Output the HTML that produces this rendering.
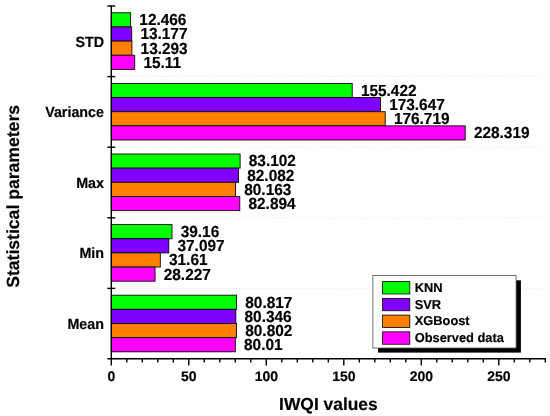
<!DOCTYPE html>
<html><head><meta charset="utf-8"><title>chart</title><style>html,body{margin:0;padding:0;background:#fff}svg{display:block}</style></head><body>
<svg width="550" height="416" viewBox="0 0 550 416" font-family="'Liberation Sans', Arial, sans-serif" font-weight="bold" fill="#000" text-rendering="geometricPrecision">
<rect width="550" height="416" fill="#fff"/>
<line x1="111.3" y1="76.60" x2="543" y2="76.60" stroke="#e2e2e2" stroke-width="1" stroke-dasharray="1 1.9"/>
<line x1="111.3" y1="147.20" x2="543" y2="147.20" stroke="#e2e2e2" stroke-width="1" stroke-dasharray="1 1.9"/>
<line x1="111.3" y1="217.80" x2="543" y2="217.80" stroke="#e2e2e2" stroke-width="1" stroke-dasharray="1 1.9"/>
<line x1="111.3" y1="288.40" x2="543" y2="288.40" stroke="#e2e2e2" stroke-width="1" stroke-dasharray="1 1.9"/>
<rect x="111.3" y="12.80" width="19.32" height="14.15" fill="#00ff00" stroke="#0a0a0a" stroke-width="0.9"/>
<text transform="translate(139.32,25.27) scale(1,1.04)" font-size="15.4" stroke="#000" stroke-width="0.18">12.466</text>
<rect x="111.3" y="26.95" width="20.42" height="14.15" fill="#8000ff" stroke="#0a0a0a" stroke-width="0.9"/>
<text transform="translate(140.42,39.43) scale(1,1.04)" font-size="15.4" stroke="#000" stroke-width="0.18">13.177</text>
<rect x="111.3" y="41.10" width="20.60" height="14.15" fill="#ff8000" stroke="#0a0a0a" stroke-width="0.9"/>
<text transform="translate(140.60,53.58) scale(1,1.04)" font-size="15.4" stroke="#000" stroke-width="0.18">13.293</text>
<rect x="111.3" y="55.25" width="23.42" height="14.15" fill="#ff00ff" stroke="#0a0a0a" stroke-width="0.9"/>
<text transform="translate(143.42,67.73) scale(1,1.04)" font-size="15.4" stroke="#000" stroke-width="0.18">15.11</text>
<text transform="translate(104.00,46.60) scale(1,1.04)" font-size="14.3" text-anchor="end" stroke="#000" stroke-width="0.18">STD</text>
<rect x="111.3" y="83.40" width="240.90" height="14.15" fill="#00ff00" stroke="#0a0a0a" stroke-width="0.9"/>
<text transform="translate(360.90,95.88) scale(1,1.04)" font-size="15.4" stroke="#000" stroke-width="0.18">155.422</text>
<rect x="111.3" y="97.55" width="269.15" height="14.15" fill="#8000ff" stroke="#0a0a0a" stroke-width="0.9"/>
<text transform="translate(389.15,110.03) scale(1,1.04)" font-size="15.4" stroke="#000" stroke-width="0.18">173.647</text>
<rect x="111.3" y="111.70" width="273.91" height="14.15" fill="#ff8000" stroke="#0a0a0a" stroke-width="0.9"/>
<text transform="translate(393.91,124.17) scale(1,1.04)" font-size="15.4" stroke="#000" stroke-width="0.18">176.719</text>
<rect x="111.3" y="125.85" width="353.89" height="14.15" fill="#ff00ff" stroke="#0a0a0a" stroke-width="0.9"/>
<text transform="translate(473.89,138.32) scale(1,1.04)" font-size="15.4" stroke="#000" stroke-width="0.18">228.319</text>
<text transform="translate(104.00,117.20) scale(1,1.04)" font-size="14.3" text-anchor="end" stroke="#000" stroke-width="0.18">Variance</text>
<rect x="111.3" y="154.00" width="128.81" height="14.15" fill="#00ff00" stroke="#0a0a0a" stroke-width="0.9"/>
<text transform="translate(248.81,166.47) scale(1,1.04)" font-size="15.4" stroke="#000" stroke-width="0.18">83.102</text>
<rect x="111.3" y="168.15" width="127.23" height="14.15" fill="#8000ff" stroke="#0a0a0a" stroke-width="0.9"/>
<text transform="translate(247.23,180.62) scale(1,1.04)" font-size="15.4" stroke="#000" stroke-width="0.18">82.082</text>
<rect x="111.3" y="182.30" width="124.25" height="14.15" fill="#ff8000" stroke="#0a0a0a" stroke-width="0.9"/>
<text transform="translate(244.25,194.78) scale(1,1.04)" font-size="15.4" stroke="#000" stroke-width="0.18">80.163</text>
<rect x="111.3" y="196.45" width="128.49" height="14.15" fill="#ff00ff" stroke="#0a0a0a" stroke-width="0.9"/>
<text transform="translate(248.49,208.92) scale(1,1.04)" font-size="15.4" stroke="#000" stroke-width="0.18">82.894</text>
<text transform="translate(104.00,187.80) scale(1,1.04)" font-size="14.3" text-anchor="end" stroke="#000" stroke-width="0.18">Max</text>
<rect x="111.3" y="224.60" width="60.70" height="14.15" fill="#00ff00" stroke="#0a0a0a" stroke-width="0.9"/>
<text transform="translate(180.70,237.07) scale(1,1.04)" font-size="15.4" stroke="#000" stroke-width="0.18">39.16</text>
<rect x="111.3" y="238.75" width="57.50" height="14.15" fill="#8000ff" stroke="#0a0a0a" stroke-width="0.9"/>
<text transform="translate(177.50,251.22) scale(1,1.04)" font-size="15.4" stroke="#000" stroke-width="0.18">37.097</text>
<rect x="111.3" y="252.90" width="49.00" height="14.15" fill="#ff8000" stroke="#0a0a0a" stroke-width="0.9"/>
<text transform="translate(169.00,265.38) scale(1,1.04)" font-size="15.4" stroke="#000" stroke-width="0.18">31.61</text>
<rect x="111.3" y="267.05" width="43.75" height="14.15" fill="#ff00ff" stroke="#0a0a0a" stroke-width="0.9"/>
<text transform="translate(163.75,279.52) scale(1,1.04)" font-size="15.4" stroke="#000" stroke-width="0.18">28.227</text>
<text transform="translate(104.00,258.40) scale(1,1.04)" font-size="14.3" text-anchor="end" stroke="#000" stroke-width="0.18">Min</text>
<rect x="111.3" y="295.20" width="125.27" height="14.15" fill="#00ff00" stroke="#0a0a0a" stroke-width="0.9"/>
<text transform="translate(245.27,307.67) scale(1,1.04)" font-size="15.4" stroke="#000" stroke-width="0.18">80.817</text>
<rect x="111.3" y="309.35" width="124.54" height="14.15" fill="#8000ff" stroke="#0a0a0a" stroke-width="0.9"/>
<text transform="translate(244.54,321.82) scale(1,1.04)" font-size="15.4" stroke="#000" stroke-width="0.18">80.346</text>
<rect x="111.3" y="323.50" width="125.24" height="14.15" fill="#ff8000" stroke="#0a0a0a" stroke-width="0.9"/>
<text transform="translate(245.24,335.97) scale(1,1.04)" font-size="15.4" stroke="#000" stroke-width="0.18">80.802</text>
<rect x="111.3" y="337.65" width="124.02" height="14.15" fill="#ff00ff" stroke="#0a0a0a" stroke-width="0.9"/>
<text transform="translate(244.02,350.12) scale(1,1.04)" font-size="15.4" stroke="#000" stroke-width="0.18">80.01</text>
<text transform="translate(104.00,329.00) scale(1,1.04)" font-size="14.3" text-anchor="end" stroke="#000" stroke-width="0.18">Mean</text>
<line x1="111.3" y1="5.3" x2="111.3" y2="359.5" stroke="#000" stroke-width="1.4"/>
<line x1="107.3" y1="358.8" x2="545.9" y2="358.8" stroke="#000" stroke-width="1.4"/>
<line x1="107.3" y1="6.00" x2="115.3" y2="6.00" stroke="#000" stroke-width="1.4"/>
<line x1="107.3" y1="76.60" x2="115.3" y2="76.60" stroke="#000" stroke-width="1.4"/>
<line x1="107.3" y1="147.20" x2="115.3" y2="147.20" stroke="#000" stroke-width="1.4"/>
<line x1="107.3" y1="217.80" x2="115.3" y2="217.80" stroke="#000" stroke-width="1.4"/>
<line x1="107.3" y1="288.40" x2="115.3" y2="288.40" stroke="#000" stroke-width="1.4"/>
<line x1="111.30" y1="358.8" x2="111.30" y2="365.6" stroke="#000" stroke-width="1.4"/>
<text transform="translate(111.30,380.60) scale(1,0.99)" font-size="14" text-anchor="middle" stroke="#000" stroke-width="0.18">0</text>
<line x1="126.80" y1="358.8" x2="126.80" y2="362.40000000000003" stroke="#000" stroke-width="1.4"/>
<line x1="142.30" y1="358.8" x2="142.30" y2="362.40000000000003" stroke="#000" stroke-width="1.4"/>
<line x1="157.80" y1="358.8" x2="157.80" y2="362.40000000000003" stroke="#000" stroke-width="1.4"/>
<line x1="173.30" y1="358.8" x2="173.30" y2="362.40000000000003" stroke="#000" stroke-width="1.4"/>
<line x1="188.80" y1="358.8" x2="188.80" y2="365.6" stroke="#000" stroke-width="1.4"/>
<text transform="translate(188.80,380.60) scale(1,0.99)" font-size="14" text-anchor="middle" stroke="#000" stroke-width="0.18">50</text>
<line x1="204.30" y1="358.8" x2="204.30" y2="362.40000000000003" stroke="#000" stroke-width="1.4"/>
<line x1="219.80" y1="358.8" x2="219.80" y2="362.40000000000003" stroke="#000" stroke-width="1.4"/>
<line x1="235.30" y1="358.8" x2="235.30" y2="362.40000000000003" stroke="#000" stroke-width="1.4"/>
<line x1="250.80" y1="358.8" x2="250.80" y2="362.40000000000003" stroke="#000" stroke-width="1.4"/>
<line x1="266.30" y1="358.8" x2="266.30" y2="365.6" stroke="#000" stroke-width="1.4"/>
<text transform="translate(266.30,380.60) scale(1,0.99)" font-size="14" text-anchor="middle" stroke="#000" stroke-width="0.18">100</text>
<line x1="281.80" y1="358.8" x2="281.80" y2="362.40000000000003" stroke="#000" stroke-width="1.4"/>
<line x1="297.30" y1="358.8" x2="297.30" y2="362.40000000000003" stroke="#000" stroke-width="1.4"/>
<line x1="312.80" y1="358.8" x2="312.80" y2="362.40000000000003" stroke="#000" stroke-width="1.4"/>
<line x1="328.30" y1="358.8" x2="328.30" y2="362.40000000000003" stroke="#000" stroke-width="1.4"/>
<line x1="343.80" y1="358.8" x2="343.80" y2="365.6" stroke="#000" stroke-width="1.4"/>
<text transform="translate(343.80,380.60) scale(1,0.99)" font-size="14" text-anchor="middle" stroke="#000" stroke-width="0.18">150</text>
<line x1="359.30" y1="358.8" x2="359.30" y2="362.40000000000003" stroke="#000" stroke-width="1.4"/>
<line x1="374.80" y1="358.8" x2="374.80" y2="362.40000000000003" stroke="#000" stroke-width="1.4"/>
<line x1="390.30" y1="358.8" x2="390.30" y2="362.40000000000003" stroke="#000" stroke-width="1.4"/>
<line x1="405.80" y1="358.8" x2="405.80" y2="362.40000000000003" stroke="#000" stroke-width="1.4"/>
<line x1="421.30" y1="358.8" x2="421.30" y2="365.6" stroke="#000" stroke-width="1.4"/>
<text transform="translate(421.30,380.60) scale(1,0.99)" font-size="14" text-anchor="middle" stroke="#000" stroke-width="0.18">200</text>
<line x1="436.80" y1="358.8" x2="436.80" y2="362.40000000000003" stroke="#000" stroke-width="1.4"/>
<line x1="452.30" y1="358.8" x2="452.30" y2="362.40000000000003" stroke="#000" stroke-width="1.4"/>
<line x1="467.80" y1="358.8" x2="467.80" y2="362.40000000000003" stroke="#000" stroke-width="1.4"/>
<line x1="483.30" y1="358.8" x2="483.30" y2="362.40000000000003" stroke="#000" stroke-width="1.4"/>
<line x1="498.80" y1="358.8" x2="498.80" y2="365.6" stroke="#000" stroke-width="1.4"/>
<text transform="translate(498.80,380.60) scale(1,0.99)" font-size="14" text-anchor="middle" stroke="#000" stroke-width="0.18">250</text>
<line x1="514.30" y1="358.8" x2="514.30" y2="362.40000000000003" stroke="#000" stroke-width="1.4"/>
<line x1="529.80" y1="358.8" x2="529.80" y2="362.40000000000003" stroke="#000" stroke-width="1.4"/>
<line x1="545.30" y1="358.8" x2="545.30" y2="362.40000000000003" stroke="#000" stroke-width="1.4"/>
<text transform="translate(328.40,410.20) scale(1,1.0)" font-size="17.4" text-anchor="middle" stroke="#000" stroke-width="0.18">IWQI values</text>
<text transform="translate(18.80,196.40) rotate(-90) scale(1,1.0)" font-size="17.6" text-anchor="middle" stroke="#000" stroke-width="0.18">Statistical parameters</text>
<rect x="378" y="280.3" width="142.9" height="72.3" fill="#000"/>
<rect x="372.9" y="275.5" width="143.2" height="72.5" fill="#fff" stroke="#505050" stroke-width="0.8"/>
<rect x="382.6" y="281.60" width="27.2" height="12.4" fill="#00ff00" stroke="#000" stroke-width="0.8"/>
<text transform="translate(414.70,291.80) scale(1,1.0)" font-size="12.85" stroke="#000" stroke-width="0.18">KNN</text>
<rect x="382.6" y="298.35" width="27.2" height="12.4" fill="#8000ff" stroke="#000" stroke-width="0.8"/>
<text transform="translate(414.70,308.60) scale(1,1.0)" font-size="12.85" stroke="#000" stroke-width="0.18">SVR</text>
<rect x="382.6" y="315.10" width="27.2" height="12.4" fill="#ff8000" stroke="#000" stroke-width="0.8"/>
<text transform="translate(414.70,325.40) scale(1,1.0)" font-size="12.85" stroke="#000" stroke-width="0.18">XGBoost</text>
<rect x="382.6" y="331.85" width="27.2" height="12.4" fill="#ff00ff" stroke="#000" stroke-width="0.8"/>
<text transform="translate(414.70,342.20) scale(1,1.0)" font-size="12.85" stroke="#000" stroke-width="0.18">Observed data</text>
</svg>
</body></html>
